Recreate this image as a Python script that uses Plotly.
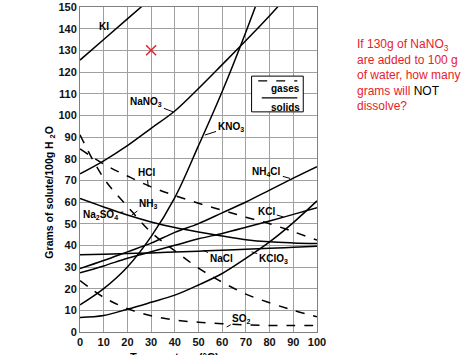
import plotly.graph_objects as go

# ---- data ----
temps = [0, 10, 20, 30, 40, 50, 60, 70, 80, 90, 100]

ki_t = [0, 10, 20, 30]
ki = [125.5, 135, 144.5, 154]

nano3_t = [0, 10, 20, 30, 40, 50, 60, 70, 80, 90]
nano3 = [73, 79, 86, 94, 102, 112.4, 123.4, 134.5, 146, 158]

kno3_t = [0, 10, 20, 30, 40, 50, 60, 70, 80]
kno3 = [12.5, 20, 30, 44, 62, 86, 111, 138.5, 168]

nh4cl = [29.3, 33, 37, 41, 46, 50, 55, 60, 65.5, 71, 76.3]
kcl = [27.3, 30.5, 34, 37, 40, 43, 45.5, 48.3, 51.2, 54.3, 57.4]
nacl = [35.7, 35.9, 36.2, 36.5, 36.9, 37.3, 37.7, 38.2, 38.6, 39.1, 39.6]
na2so4 = [61.6, 57.7, 54, 50.8, 48.2, 46.2, 44.3, 42.6, 41.6, 41.1, 40.8]
kclo3 = [6.7, 7.6, 10.5, 13.7, 17, 21.7, 27, 34, 41.6, 50.5, 60.5]

hcl = [84.5, 77.5, 72, 67, 63, 59.4, 56.2, 53, 50, 46.3, 42.4]
nh3 = [91, 71, 58, 46, 37.5, 29.5, 23, 17.5, 13.5, 10, 7]
so2 = [23.7, 16, 10.8, 7.5, 5.5, 4.5, 3.8, 3.3, 3, 3, 3]

x_ticks = list(range(0, 101, 10))
y_ticks = list(range(0, 151, 10))

# label: (text, text_T, text_g, point_T, point_g)
labels = [
    ("KI", 10, 141, None, None),
    ("NaNO<sub>3</sub>", 28, 106.3, 39.3, 101.6),
    ("KNO<sub>3</sub>", 63.5, 94.7, 52.7, 90.9),
    ("HCl", 28.2, 73.4, 28.8, 67),
    ("NH<sub>3</sub>", 28.5, 59.3, 21.8, 53.9),
    ("Na<sub>2</sub>SO<sub>4</sub>", 8.5, 53.9, 18.3, 55.4),
    ("NH<sub>4</sub>Cl", 78.8, 73.9, 88.6, 70.9),
    ("KCl", 78.8, 55.4, 85.8, 53.1),
    ("NaCl", 59.5, 33.9, 52, 37.7),
    ("KClO<sub>3</sub>", 81.5, 33.9, 72.4, 37),
    ("SO<sub>2</sub>", 68, 6.2, 61.9, 2.3),
]

question = ("If 130g of NaNO<sub>3</sub><br>are added to 100 g<br>of water, how many<br>"
            "grams will <span style='color:black'>NOT</span><br>dissolve?")

FONT = "Liberation Sans, Arial, sans-serif"

fig = go.Figure()

def add_curve(xs, ys, dash):
    fig.add_trace(go.Scatter(x=xs, y=ys, mode="lines", line_shape="spline",
                             line=dict(color="black", width=1.5, dash=dash),
                             showlegend=False, hoverinfo="skip"))

add_curve(ki_t, ki, "solid")
add_curve(nano3_t, nano3, "solid")
add_curve(kno3_t, kno3, "solid")
for s in [nh4cl, kcl, nacl, na2so4, kclo3]:
    add_curve(temps, s, "solid")
for s in [hcl, nh3, so2]:
    add_curve(temps, s, "dash")

# red X
fig.add_trace(go.Scatter(x=[30], y=[130], mode="markers",
                         marker=dict(symbol="x-thin", size=10,
                                     line=dict(color="#e8202a", width=1.5)),
                         showlegend=False, hoverinfo="skip"))

for text, tx, ty, px, py in labels:
    if px is None:
        fig.add_annotation(x=tx, y=ty, text=text, showarrow=False,
                           font=dict(family=FONT, size=10, color="black", weight="bold"))
    else:
        fig.add_annotation(x=px, y=py, ax=tx, ay=ty, axref="x", ayref="y",
                           text=text, showarrow=True, arrowhead=0, arrowwidth=1,
                           arrowcolor="black", standoff=0, startstandoff=0,
                           bgcolor="rgba(255,255,255,0)",
                           font=dict(family=FONT, size=10, color="black", weight="bold"))

# legend box
fig.add_shape(type="rect", x0=72.4, x1=94.2, y0=101.6, y1=118.1,
              line=dict(color="black", width=1), fillcolor="white", layer="above")
fig.add_shape(type="line", x0=75.2, x1=91.7, y0=115.9, y1=115.9,
              line=dict(color="black", width=1.2, dash="dash"), layer="above")
fig.add_shape(type="line", x0=76.7, x1=91.7, y0=108.1, y1=108.1,
              line=dict(color="black", width=1.2), layer="above")
fig.add_annotation(x=93.6, y=112.4, text="gases", showarrow=False, xanchor="right",
                   font=dict(family=FONT, size=10, color="black", weight="bold"))
fig.add_annotation(x=93.6, y=103.6, text="solids", showarrow=False, xanchor="right",
                   font=dict(family=FONT, size=10, color="black", weight="bold"))

# axis titles
fig.add_annotation(xref="paper", yref="paper", x=-0.125, y=0.43, xanchor="center",
                   yanchor="middle",
                   text="Grams of solute/100g H <sub>2</sub>O", textangle=-90,
                   showarrow=False,
                   font=dict(family=FONT, size=10.5, color="black", weight="bold"))
fig.add_annotation(xref="paper", yref="paper", x=0.40, y=-0.052, yanchor="top",
                   xanchor="center",
                   text="Temperature (°C)", showarrow=False,
                   font=dict(family=FONT, size=11, color="black", weight="bold"))

# question text
fig.add_annotation(xref="paper", yref="paper", x=1.16, y=0.915, xanchor="left",
                   yanchor="top", align="left", text=question, showarrow=False,
                   font=dict(family="Liberation Sans, Arial, sans-serif", size=12,
                             color="#e8202a"))

axis_common = dict(showgrid=True, gridcolor="#a0a0a0", gridwidth=1,
                   showline=True, linecolor="#808080", linewidth=1, mirror=True,
                   zeroline=False, ticks="", automargin=False,
                   tickfont=dict(family=FONT, size=11, color="#111", weight="bold"))

fig.update_layout(
    width=474, height=355,
    margin=dict(l=80, r=157, t=7, b=23),
    paper_bgcolor="white", plot_bgcolor="white",
    xaxis=dict(range=[0, 100], tickvals=x_ticks, **axis_common),
    yaxis=dict(range=[0, 150], tickvals=y_ticks, **axis_common),
)

fig.write_html("out.html", config={"displayModeBar": False},
               post_script="document.body.style.margin='0';")
